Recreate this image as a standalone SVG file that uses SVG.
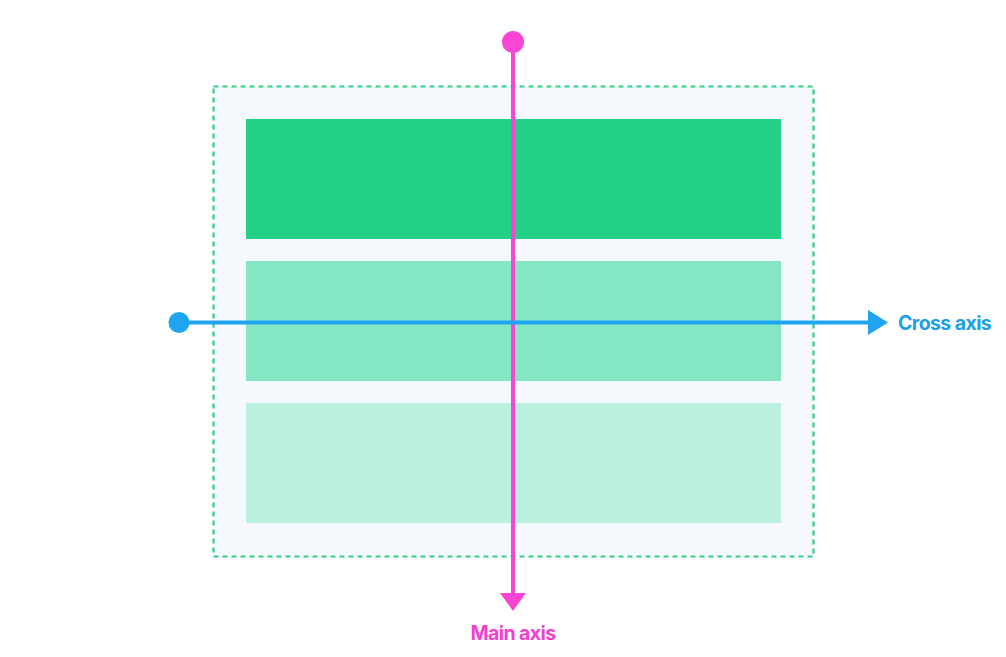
<svg xmlns="http://www.w3.org/2000/svg" width="1006" height="657" viewBox="0 0 1006 657">
<style>
.lbl{font-family:"Inter","Liberation Sans",sans-serif;font-weight:700;font-size:19.5px;letter-spacing:-0.6px}
</style>
<rect width="1006" height="657" fill="#ffffff"/>
<g id="container">
<rect x="213.5" y="86.5" width="600" height="470" fill="#f5f8fd" stroke="#2fcf84" stroke-width="2.2" stroke-dasharray="5,4"/>
</g>
<g id="item1"><rect x="246" y="119" width="535" height="120" fill="#22d186"/></g>
<g id="item2"><rect x="246" y="261" width="535" height="120" fill="#84e6c3"/></g>
<g id="item3"><rect x="246" y="403" width="535" height="120" fill="#bbf0de"/></g>
<g id="connectors">
<line x1="513" y1="42" x2="513" y2="596" stroke="#f945d3" stroke-width="4" stroke-linecap="round"/>
<circle cx="513" cy="42" r="11" fill="#f945d3"/>
<polygon points="500,593 526,593 513,611" fill="#f945d3"/>
<line x1="179" y1="322.5" x2="872" y2="322.5" stroke="#1ea4f0" stroke-width="4" stroke-linecap="round"/>
<circle cx="179" cy="322.5" r="10.5" fill="#1ea4f0"/>
<polygon points="868,310 868,335 888,322.5" fill="#1ea4f0"/>
</g>
<g id="labels">
<text class="lbl" x="513" y="640" text-anchor="middle" fill="#f33fcf">Main axis</text>
<text class="lbl" x="898" y="330" fill="#1b9fe6">Cross axis</text>
</g>
</svg>
